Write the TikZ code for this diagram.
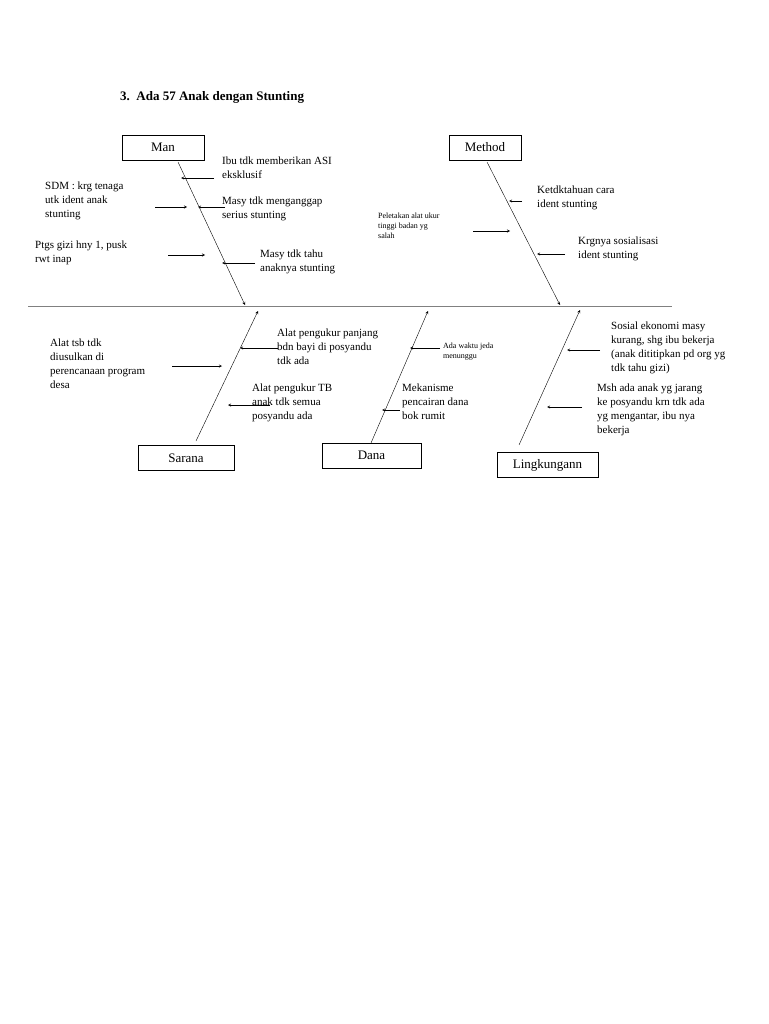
\documentclass[tikz,border=0pt]{standalone}
\usepackage{fontspec}
\setmainfont{Liberation Serif}
\begin{document}
\begin{tikzpicture}[x=1pt,y=-1pt,
  box/.style={draw,minimum width=#1,minimum height=25pt,inner sep=0pt,font=\fontsize{13}{15}\selectfont},
  note/.style={anchor=north west,inner sep=0pt,align=left,font=\fontsize{11}{14}\selectfont},
  tiny/.style={anchor=north west,inner sep=0pt,align=left,font=\fontsize{8}{10}\selectfont},
  bone/.style={->,>=stealth},
  tip/.style={->,>=stealth}]
\useasboundingbox (0,0) rectangle (768,1024);
\node[anchor=west,inner sep=0pt,font=\bfseries\fontsize{13}{15}\selectfont] (title) at (120,97) {3.\ \ Ada 57 Anak dengan Stunting};
% heads
\node[box=82pt] (man) at (163,147.5) {Man};
\node[box=72pt] (method) at (485,147.5) {Method};
\node[box=96pt] (sarana) at (186,458) {Sarana};
\node[box=99pt] (dana) at (371.5,455.5) {Dana};
\node[box=101pt] (lingk) at (547.5,465) {Lingkungann};
% spine
\coordinate (s0) at (28,306);
\coordinate (s1) at (672,306);
\draw[gray] (s0) -- (s1);
\coordinate (m1) at (245,305);
\coordinate (t1) at (560,305);
\coordinate (a1) at (258,311);
\coordinate (d1) at (428,311);
\coordinate (l1) at (580,310);
\draw[bone] (178,162) -- (m1);
\draw[bone] (487,162) -- (t1);
\draw[bone] (196,441) -- (a1);
\draw[bone] (371,443) -- (d1);
\draw[bone] (519,445) -- (l1);
% Man
\node[note] (n1) at (222,157) {Ibu tdk memberikan ASI\\eksklusif};
\node[note] (n2) at (45,182) {SDM : krg tenaga\\utk ident anak\\stunting};
\node[note] (n3) at (222,197) {Masy tdk menganggap\\serius stunting};
\node[note] (n4) at (35,241) {Ptgs gizi hny 1, pusk\\rwt inap};
\node[note] (n5) at (260,250) {Masy tdk tahu\\anaknya stunting};
\draw[tip] (214,178) -- (181,178);
\draw[tip] (155,207) -- (187,207);
\draw[tip] (225,207) -- (198,207);
\draw[tip] (168,255) -- (205,255);
\draw[tip] (255,263) -- (222,263);
% Method
\node[note] (n6) at (537,186) {Ketdktahuan cara\\ident stunting};
\node[tiny] (n7) at (378,213) {Peletakan alat ukur\\tinggi badan yg\\salah};
\node[note] (n8) at (578,237) {Krgnya sosialisasi\\ident stunting};
\draw[tip] (522,201) -- (509,201);
\draw[tip] (473,231) -- (510,231);
\draw[tip] (565,254) -- (537,254);
% Sarana
\node[note] (n9) at (277,329) {Alat pengukur panjang\\bdn bayi di posyandu\\tdk ada};
\node[note] (n10) at (50,339) {Alat tsb tdk\\diusulkan di\\perencanaan program\\desa};
\node[note] (n11) at (252,384) {Alat pengukur TB\\anak tdk semua\\posyandu ada};
\draw[tip] (278,348) -- (240,348);
\draw[tip] (172,366) -- (222,366);
\draw[tip] (270,405) -- (228,405);
% Dana
\node[tiny] (n12) at (443,343) {Ada waktu jeda\\menunggu};
\node[note] (n13) at (402,384) {Mekanisme\\pencairan dana\\bok rumit};
\draw[tip] (440,348) -- (410,348);
\draw[tip] (400,410) -- (382,410);
% Lingkungan
\node[note] (n14) at (611,322) {Sosial ekonomi masy\\kurang, shg ibu bekerja\\(anak dititipkan pd org yg\\tdk tahu gizi)};
\node[note] (n15) at (597,384) {Msh ada anak yg jarang\\ke posyandu krn tdk ada\\yg mengantar, ibu nya\\bekerja};
\draw[tip] (600,350) -- (567,350);
\draw[tip] (582,407) -- (547,407);
\end{tikzpicture}
\end{document}
